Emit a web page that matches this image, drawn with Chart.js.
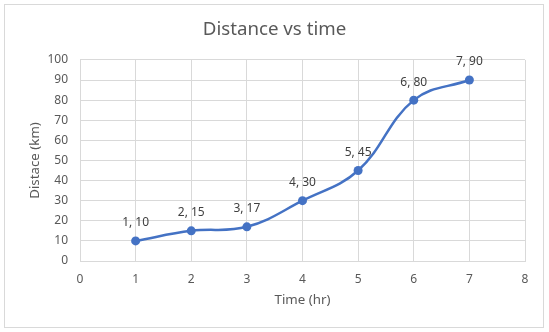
<!DOCTYPE html>
<html>
<head>
<meta charset="utf-8">
<script src="https://cdn.jsdelivr.net/npm/chart.js@4"></script>
<style>
  html, body { margin: 0; padding: 0; background: #fff; }
  #wrap { width: 549px; height: 332px; }
</style>
</head>
<body>
<div id="wrap"><canvas id="distChart" width="549" height="332"></canvas></div>
<script>
// -------- DATA --------
const tiempos = [1, 2, 3, 4, 5, 6, 7];
const distancias = [10, 15, 17, 30, 45, 80, 90];
const xTicks = [0, 1, 2, 3, 4, 5, 6, 7, 8];
const yTicks = [0, 10, 20, 30, 40, 50, 60, 70, 80, 90, 100];

const FONT = "'Noto Sans', 'Liberation Sans', sans-serif";
const GRIS = "#595959";
const AZUL = "#4472c4";

// -------- PLUGINS --------
const borde = {
    id: "borde",
    beforeDraw(chart) {
        const ctx = chart.ctx;
        ctx.save();
        ctx.fillStyle = "#fff";
        ctx.fillRect(0, 0, chart.width, chart.height);
        ctx.strokeStyle = "#d9d9d9";
        ctx.lineWidth = 1;
        ctx.strokeRect(4.5, 4.5, 539, 323);
        ctx.restore();
    }
};

const etiquetas = {
    id: "etiquetas",
    afterDatasetsDraw(chart) {
        const ctx = chart.ctx;
        const meta = chart.getDatasetMeta(0);
        ctx.save();
        ctx.font = "12px " + FONT;
        ctx.fillStyle = "#404040";
        ctx.textAlign = "center";
        ctx.textBaseline = "middle";
        meta.data.forEach((pt, i) => {
            ctx.fillText(tiempos[i] + ", " + distancias[i], pt.x, pt.y - 18);
        });
        ctx.restore();
    }
};

// -------- CHART --------
new Chart(document.getElementById("distChart"), {
    type: "scatter",
    data: {
        datasets: [{
            label: "Distance",
            data: tiempos.map((t, i) => ({ x: t, y: distancias[i] })),
            showLine: true,
            tension: 0.4,
            borderColor: AZUL,
            backgroundColor: AZUL,
            borderWidth: 2.5,
            pointRadius: 4.5,
            pointBorderWidth: 0,
            pointBackgroundColor: AZUL
        }]
    },
    options: {
        responsive: false,
        animation: false,
        events: [],
        layout: { padding: { left: 24, right: 24, top: 0, bottom: 0 } },
        plugins: {
            legend: { display: false },
            tooltip: { enabled: false },
            title: {
                display: true,
                text: "Distance vs time",
                color: GRIS,
                font: { family: FONT, size: 18.7, weight: "normal" },
                padding: { top: 18, bottom: 19.5 }
            }
        },
        scales: {
            x: {
                type: "linear",
                min: 0,
                max: 8,
                afterBuildTicks: s => { s.ticks = xTicks.map(v => ({ value: v })); },
                afterFit: s => { s.height = 71; },
                grid: { color: "#d9d9d9", drawTicks: false },
                border: { color: "#d9d9d9" },
                ticks: { color: GRIS, padding: 11, font: { family: FONT, size: 12 } },
                title: {
                    display: true,
                    text: "Time (hr)",
                    color: GRIS,
                    font: { family: FONT, size: 13.3 },
                    padding: { top: 0, bottom: 24 }
                }
            },
            y: {
                min: 0,
                max: 100,
                afterBuildTicks: s => { s.ticks = yTicks.map(v => ({ value: v })); },
                afterFit: s => { s.width = 56; },
                grid: { color: "#d9d9d9", drawTicks: false },
                border: { color: "#d9d9d9" },
                ticks: { color: GRIS, padding: 12, font: { family: FONT, size: 12 } },
                title: {
                    display: true,
                    text: "Distace (km)",
                    color: GRIS,
                    font: { family: FONT, size: 13.3 },
                    padding: { top: 3, bottom: 0 }
                }
            }
        }
    },
    plugins: [borde, etiquetas]
});
</script>
</body>
</html>
